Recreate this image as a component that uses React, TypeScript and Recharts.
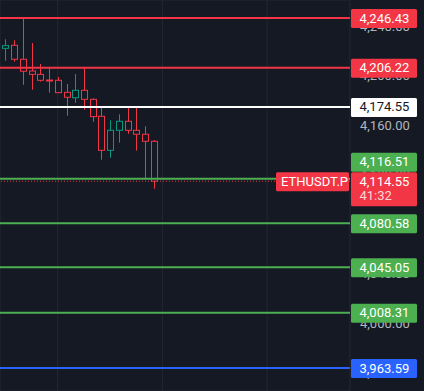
import { Bar, CartesianGrid, ComposedChart, ReferenceLine, XAxis, YAxis } from 'recharts'

const SYMBOL = 'ETHUSDT.P'
const COUNTDOWN = '41:32'
const LAST_PRICE = 4114.55

const OPENS = [4221.9, 4224.4, 4213.1, 4203.6, 4200.9, 4196.3, 4196.1, 4186.4, 4182.0, 4188.0, 4180.7, 4167.0, 4139.5, 4155.7, 4163.0, 4155.7, 4152.5, 4146.8]
const HIGHS = [4229.2, 4228.4, 4245.6, 4226.2, 4209.3, 4206.3, 4198.8, 4193.1, 4201.2, 4206.3, 4181.5, 4174.8, 4163.8, 4168.6, 4174.5, 4173.9, 4158.9, 4147.8]
const LOWS = [4211.9, 4211.1, 4192.5, 4188.5, 4195.0, 4186.1, 4186.1, 4167.5, 4178.0, 4172.3, 4162.6, 4131.9, 4133.5, 4145.7, 4152.9, 4139.2, 4116.6, 4108.5]
const CLOSES = [4224.1, 4213.1, 4203.4, 4200.9, 4196.1, 4195.9, 4186.1, 4182.4, 4188.0, 4180.7, 4166.7, 4139.5, 4155.7, 4163.0, 4155.7, 4152.5, 4146.8, 4114.55]

const RESISTANCE = [4246.43, 4206.22]
const PIVOT = [4174.55]
const SUPPORT = [4116.51, 4080.58, 4045.05, 4008.31]
const FLOOR = [3963.59]

const PRICE_TICKS = [3960, 4000, 4040, 4080, 4120, 4160, 4200, 4240]
const TIME_TICKS = [6, 18, 30]

const BG = '#151924'
const GRID = '#242833'
const UP = '#089981'
const DOWN = '#f23645'
const GREEN = '#4caf50'
const BLUE = '#2962ff'
const FONT = 'Roboto, "Noto Sans", sans-serif'

const data = OPENS.map((open, i) => ({
  i,
  open,
  close: CLOSES[i],
  high: HIGHS[i],
  low: LOWS[i],
  range: [LOWS[i], HIGHS[i]],
}))

const fmt = (v: number) => v.toLocaleString('en-US', { minimumFractionDigits: 2, maximumFractionDigits: 2 })

function Candle(props: any) {
  const { x, y, width, height, payload } = props
  if (!payload) return null
  const top = Math.min(y, y + height)
  const h = Math.abs(height)
  const span = payload.high - payload.low || 1
  const py = (p: number) => top + ((payload.high - p) / span) * h
  const cx = Math.round(x + width / 2) + 0.5
  const color = payload.close >= payload.open ? UP : DOWN
  const y1 = py(Math.max(payload.open, payload.close))
  const y2 = py(Math.min(payload.open, payload.close))
  return (
    <g>
      <line x1={cx} x2={cx} y1={top} y2={top + h} stroke={color} strokeWidth={1} />
      <rect x={cx - 3} y={y1} width={6} height={Math.max(y2 - y1, 1)} fill={BG} stroke={color} strokeWidth={1} />
    </g>
  )
}

// axis tick text, drawn as a reference label so the price tags can sit on top of it
function TickText(props: any) {
  const { viewBox, value } = props
  if (!viewBox) return null
  const { x, y, width } = viewBox
  return (
    <text x={x + width + 10} y={y + 4.6} fill="#b2b5be" fontSize={13} fontFamily={FONT}>
      {fmt(value)}
    </text>
  )
}

function PriceTag(props: any) {
  const { viewBox, price, color, textColor, lift = 0 } = props
  if (!viewBox) return null
  const { x, y, width } = viewBox
  const bx = x + width + 1
  const by = y - 9 - lift
  return (
    <g>
      <rect x={bx} y={by} width={66} height={19} rx={1.5} fill={color} />
      <text x={bx + 8.5} y={by + 13.5} fill={textColor} fontSize={13} fontFamily={FONT}>
        {fmt(price)}
      </text>
    </g>
  )
}

function LastPriceTag(props: any) {
  const { viewBox } = props
  if (!viewBox) return null
  const { x, y, width } = viewBox
  const right = x + width
  return (
    <g>
      <rect x={right - 74} y={y - 9} width={73} height={19} rx={1.5} fill={DOWN} />
      <text x={right - 69} y={y + 4.7} fill="#ffffff" fontSize={13} fontFamily={FONT}>
        {SYMBOL}
      </text>
      <rect x={right + 1} y={y - 9} width={66} height={34} rx={1.5} fill={DOWN} />
      <text x={right + 9.5} y={y + 4.7} fill="#ffffff" fontSize={13} fontFamily={FONT}>
        {fmt(LAST_PRICE)}
      </text>
      <text x={right + 9.5} y={y + 19} fill="#ffffff" fillOpacity={0.8} fontSize={13} fontFamily={FONT}>
        {COUNTDOWN}
      </text>
    </g>
  )
}

function level(price: number, color: string, textColor: string) {
  // tag would collide with the last-price tag, push it above like TradingView does
  const lift = Math.abs(price - LAST_PRICE) < 10 ? 17 : 0
  return (
    <ReferenceLine
      key={price}
      y={price}
      stroke={color}
      strokeWidth={2}
      ifOverflow="visible"
      label={<PriceTag price={price} color={color} textColor={textColor} lift={lift} />}
    />
  )
}

export default function App() {
  return (
    <div style={{ width: 424, height: 391, background: BG, overflow: 'hidden' }}>
      <style>{'body{margin:0}'}</style>
      <ComposedChart width={424} height={391} data={data} margin={{ top: 0, right: 0, bottom: 0, left: 0 }}>
        <CartesianGrid stroke={GRID} strokeWidth={1} />
        <XAxis dataKey="i" type="number" domain={[-0.611, 39.5]} ticks={TIME_TICKS} allowDataOverflow hide />
        <YAxis
          orientation="right"
          width={74}
          domain={[3945.02, 4260.98]}
          allowDataOverflow
          ticks={PRICE_TICKS}
          tick={false}
          axisLine={false}
          tickLine={false}
        />
        <Bar dataKey="range" barSize={7} shape={<Candle />} isAnimationActive={false} />
        {PRICE_TICKS.map((t) => (
          <ReferenceLine key={`t${t}`} y={t} stroke="none" ifOverflow="visible" label={<TickText value={t} />} />
        ))}
        {RESISTANCE.map((p) => level(p, DOWN, '#ffffff'))}
        {PIVOT.map((p) => level(p, '#ffffff', '#131722'))}
        {SUPPORT.map((p) => level(p, GREEN, '#ffffff'))}
        {FLOOR.map((p) => level(p, BLUE, '#ffffff'))}
        <ReferenceLine
          y={LAST_PRICE}
          stroke={DOWN}
          strokeWidth={1}
          strokeDasharray="1 2"
          ifOverflow="visible"
          label={<LastPriceTag />}
        />
      </ComposedChart>
    </div>
  )
}
